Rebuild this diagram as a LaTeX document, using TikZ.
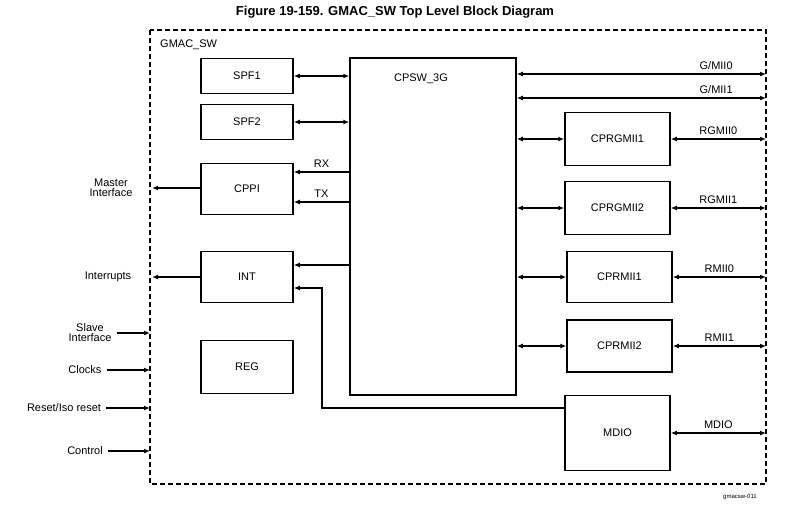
\documentclass[tikz,border=0pt]{standalone}
\usepackage{fontspec}
\setmainfont{Liberation Sans}
\usetikzlibrary{arrows.meta, positioning, calc}

\begin{document}
\begin{tikzpicture}[
			x=1pt, y=-1pt,
			font=\fontsize{11}{12}\selectfont,
			block/.style={
				rectangle,
				draw=black,
				line width=1.5pt,
				inner sep=0pt,
				text centered
			},
			small_block/.style={
				block,
				minimum width=92pt
			},
			phy_block/.style={
				block,
				minimum width=105pt
			},
			line/.style={
				-{Latex[length=6pt,width=5pt]},
				line width=1.5pt
			},
			bus/.style={
				{Latex[length=6pt,width=5pt]}-{Latex[length=6pt,width=5pt]},
				line width=1.5pt
			},
			desc/.style={
				align=center,
				inner sep=1pt
			}
			]
			
			\useasboundingbox (0,0) rectangle (789,509);
			
			% Title and frame
			
			\node [font=\fontsize{13}{15}\selectfont\bfseries] (title) at (395,12) {Figure 19-159. GMAC\_SW Top Level Block Diagram};
			\draw [dash pattern=on 5pt off 3pt, line width=1.1pt] (150,30) rectangle (766,484);
			\node [anchor=west, inner sep=0pt] (gmac_sw) at (160,45) {GMAC\_SW};
			\node [font=\fontsize{6}{7}\selectfont] (fig_id) at (740,497) {gmacsw-011};
			
			% Blocks
			
			\node [small_block, minimum height=35pt] (spf1) at (247,76) {SPF1};
			\node [small_block, minimum height=35pt] (spf2) at (247,122) {SPF2};
			\node [small_block, minimum height=51pt] (cppi) at (247,189) {CPPI};
			\node [small_block, minimum height=51pt] (int) at (247,277) {INT};
			\node [small_block, minimum height=53pt] (reg) at (247,367) {REG};
			
			\node [block, minimum width=166pt, minimum height=337pt] (cpsw) at (433,226.5) {};
			\node (cpsw_label) at (421,79) {CPSW\_3G};
			
			\node [phy_block, minimum height=53pt] (cprgmii1) at (617.5,139) {CPRGMII1};
			\node [phy_block, minimum height=53pt] (cprgmii2) at (617.5,208) {CPRGMII2};
			\node [phy_block, minimum height=51pt] (cprmii1) at (619.5,277) {CPRMII1};
			\node [phy_block, minimum height=52pt] (cprmii2) at (619.5,346) {CPRMII2};
			\node [phy_block, minimum height=75pt] (mdio) at (617.5,433) {MDIO};
			
			% Left side signals
			
			\node [desc] (master) at (111,188) {Master\\[-2pt]Interface};
			\node [desc] (interrupts) at (108,277) {Interrupts};
			\node [desc] (slave) at (90,333) {Slave\\[-2pt]Interface};
			\node [desc] (clocks) at (85,370) {Clocks};
			\node [desc] (reset) at (64,408) {Reset/Iso reset};
			\node [desc] (control) at (85,451) {Control};
			
			\coordinate (master_end) at (152,188);
			\coordinate (int_end) at (152,277);
			\coordinate (slave_end) at (150,333);
			\coordinate (clocks_end) at (150,370);
			\coordinate (reset_end) at (150,408);
			\coordinate (control_end) at (150,451);
			
			\draw [line] (cppi.west |- master_end) -- (master_end);
			\draw [line] (int.west |- int_end) -- (int_end);
			\draw [line] (slave.east |- slave_end) ++(4,0) -- (slave_end);
			\draw [line] (clocks.east) ++(4,0) -- (clocks_end);
			\draw [line] (reset.east) ++(4,0) -- (reset_end);
			\draw [line] (control.east) ++(4,0) -- (control_end);
			
			% Connections to CPSW_3G
			
			\draw [bus] (spf1.east) -- (spf1.east -| cpsw.west);
			\draw [bus] (spf2.east) -- (spf2.east -| cpsw.west);
			
			\draw [line] (cpsw.west |- 0,172) -- (cppi.east |- 0,172) node [midway, above=0pt] (rx) {RX};
			\draw [line] (cpsw.west |- 0,202) -- (cppi.east |- 0,202) node [midway, above=0pt] (tx) {TX};
			\draw [line] (cpsw.west |- 0,265) -- (int.east |- 0,265);
			\draw [line] (mdio.west |- 0,408) -- (322,408) -- (322,288) -- (int.east |- 0,288);
			
			\draw [bus] (cpsw.east |- cprgmii1.west) -- (cprgmii1.west);
			\draw [bus] (cpsw.east |- cprgmii2.west) -- (cprgmii2.west);
			\draw [bus] (cpsw.east |- cprmii1.west) -- (cprmii1.west);
			\draw [bus] (cpsw.east |- cprmii2.west) -- (cprmii2.west);
			
			% Right side ports
			
			\coordinate (gmii0_end) at (766,74);
			\coordinate (gmii1_end) at (766,98);
			\draw [bus] (cpsw.east |- gmii0_end) -- (gmii0_end) node [pos=0.8, above=0pt] (gmii0) {G/MII0};
			\draw [bus] (cpsw.east |- gmii1_end) -- (gmii1_end) node [pos=0.8, above=0pt] (gmii1) {G/MII1};
			
			\draw [bus] (cprgmii1.east) -- (766,139) node [midway, above=0pt] (rgmii0) {RGMII0};
			\draw [bus] (cprgmii2.east) -- (766,208) node [midway, above=0pt] (rgmii1) {RGMII1};
			\draw [bus] (cprmii1.east) -- (766,277) node [midway, above=0pt] (rmii0) {RMII0};
			\draw [bus] (cprmii2.east) -- (766,346) node [midway, above=0pt] (rmii1) {RMII1};
			\draw [bus] (mdio.east) -- (766,433) node [midway, above=0pt] (mdio_port) {MDIO};
			
		\end{tikzpicture}
\end{document}
